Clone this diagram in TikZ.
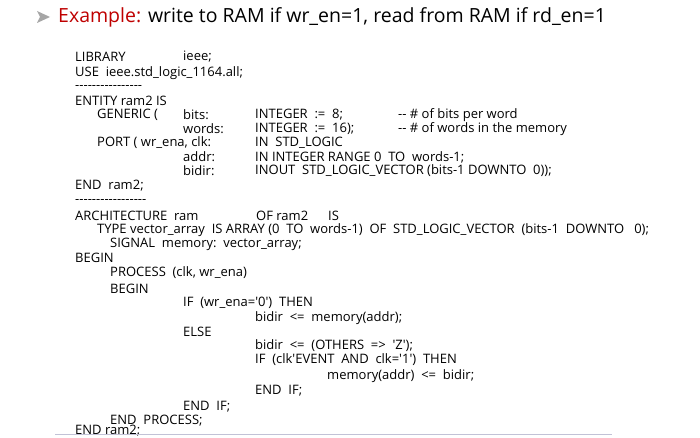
\documentclass[tikz,border=0pt]{standalone}
\usepackage{fontspec}
\setmainfont{Open Sans}
\newfontfamily\codefont{Open Sans}
\begin{document}
\begin{tikzpicture}[x=1pt,y=-1pt,
 code/.style={anchor=west,inner sep=0pt,font=\codefont\fontsize{13}{14}\selectfont},
 ttl/.style={anchor=west,inner sep=0pt,font=\fontsize{19.5}{21}\selectfont}]
\useasboundingbox[fill=white] (0,0) rectangle (700,438);
\fill[gray!70] (37,11) -- (50,17) -- (37,23) -- (40,17) -- cycle;
\node[ttl] (title) at (58,17) {\textcolor{red!75!black}{Example:} write to RAM if wr\_en=1, read from RAM if rd\_en=1};
\node[code] (a1) at (75,57) {LIBRARY};
\node[code] (a2) at (183,57) {ieee;};
\node[code] (a3) at (75,73) {USE\ \ ieee.std\_logic\_1164.all;};
\node[code] (a4) at (75,88) {----------------};
\node[code] (b1) at (75,101) {ENTITY ram2 IS};
\node[code] (b2) at (97,115) {GENERIC (};
\node[code] (b3) at (183,115) {bits:};
\node[code] (b4) at (255,115) {INTEGER \ := \ 8;};
\node[code] (b5) at (398,115) {-- \# of bits per word};
\node[code] (b6) at (183,129) {words:};
\node[code] (b7) at (255,129) {INTEGER \ := \ 16);};
\node[code] (b8) at (398,129) {-- \# of words in the memory};
\node[code] (b9) at (97,143) {PORT ( wr\_ena, clk:};
\node[code] (b10) at (255,143) {IN\ \ STD\_LOGIC};
\node[code] (b11) at (183,157) {addr:};
\node[code] (b12) at (255,157) {IN INTEGER RANGE 0\ \ TO\ \ words-1;};
\node[code] (b13) at (183,171) {bidir:};
\node[code] (b14) at (255,171) {INOUT\ \ STD\_LOGIC\_VECTOR (bits-1 DOWNTO\ \ 0));};
\node[code] (b15) at (75,186) {END\ \ ram2;};
\node[code] (c0) at (75,202) {-----------------};
\node[code] (c1) at (75,216) {ARCHITECTURE\ \ ram};
\node[code] (c2) at (256,216) {OF ram2};
\node[code] (c3) at (328,216) {IS};
\node[code] (c4) at (97,230) {TYPE vector\_array\ \ IS ARRAY (0\ \ TO\ \ words-1)\ \ OF\ \ STD\_LOGIC\_VECTOR\ \ (bits-1\ \ DOWNTO\ \ \ 0);};
\node[code] (c5) at (110,244) {SIGNAL\ \ memory:\ \ vector\_array;};
\node[code] (c6) at (75,258) {BEGIN};
\node[code] (c7) at (110,273) {PROCESS\ \ (clk, wr\_ena)};
\node[code] (c8) at (110,289) {BEGIN};
\node[code] (c9) at (183,303) {IF\ \ (wr\_ena='0')\ \ THEN};
\node[code] (c10) at (255,318) {bidir\ \ <=\ \ memory(addr);};
\node[code] (c11) at (183,332) {ELSE};
\node[code] (c12) at (255,346) {bidir\ \ <=\ \ (OTHERS\ \ =>\ \ 'Z');};
\node[code] (c13) at (255,360) {IF\ \ (clk'EVENT\ \ AND\ \ clk='1')\ \ THEN};
\node[code] (c14) at (327,376) {memory(addr)\ \ <=\ \ bidir;};
\node[code] (c15) at (255,391) {END\ \ IF;};
\node[code] (c16) at (183,407) {END\ \ IF;};
\node[code] (c17) at (110,421) {END\ \ PROCESS;};
\node[code] (c18) at (75,431) {END ram2;};
\draw[blue!20!gray!40,line width=0.8pt] (55,434.5) -- (612,434.5);
\end{tikzpicture}
\end{document}
